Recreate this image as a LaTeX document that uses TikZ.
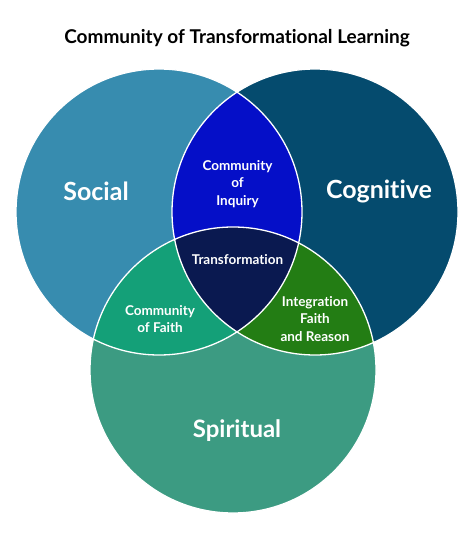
\documentclass[tikz,border=0pt]{standalone}
\usepackage{fontspec}
\setmainfont{Lato}[Ligatures=NoCommon]
\definecolor{socialc}{RGB}{55,140,175}
\definecolor{cognc}{RGB}{5,75,110}
\definecolor{spirc}{RGB}{60,155,130}
\definecolor{inqc}{RGB}{5,15,200}
\definecolor{transc}{RGB}{10,25,80}
\definecolor{faithc}{RGB}{20,160,120}
\definecolor{integc}{RGB}{35,125,20}
\begin{document}
\begin{tikzpicture}[x=1pt,y=-1pt,
  big/.style={text=white,font=\bfseries\fontsize{25}{28}\selectfont},
  small/.style={text=white,font=\bfseries\fontsize{13.5}{17.5}\selectfont,align=center},
  border/.style={draw=white,line width=1.3pt}]
\useasboundingbox (0,0) rectangle (474,537);
\coordinate (S) at (159,212);
\coordinate (C) at (315,212);
\coordinate (P) at (233,370);
\def\rr{143}
% base circles
\fill[socialc] (S) circle (\rr);
\fill[cognc] (C) circle (\rr);
\fill[spirc] (P) circle (\rr);
% pairwise
\begin{scope}\clip (S) circle (\rr); \fill[inqc] (C) circle (\rr); \end{scope}
\begin{scope}\clip (S) circle (\rr); \fill[faithc] (P) circle (\rr); \end{scope}
\begin{scope}\clip (C) circle (\rr); \fill[integc] (P) circle (\rr); \end{scope}
\begin{scope}\clip (S) circle (\rr); \clip (C) circle (\rr); \fill[transc] (P) circle (\rr); \end{scope}
% borders
\draw[border] (S) circle (\rr);
\draw[border] (C) circle (\rr);
\draw[border] (P) circle (\rr);
% texts
\node (title) at (237,38) {\bfseries\fontsize{19}{22}\selectfont Community of Transformational Learning};
\node[big] (social) at (96,191) {Social};
\node[big] (cog) at (379,191) {Cognitive};
\node[big] (spir) at (237,431) {\fontsize{24}{28}\selectfont Spiritual};
\node[small] (inq) at (237.5,184) {Community\\of\\Inquiry};
\node[small] (trans) at (237.5,260) {Transformation};
\node[small] (faith) at (160,319) {Community\\of Faith};
\node[small] (integ) at (315,319) {Integration\\Faith\\and Reason};
\end{tikzpicture}
\end{document}
